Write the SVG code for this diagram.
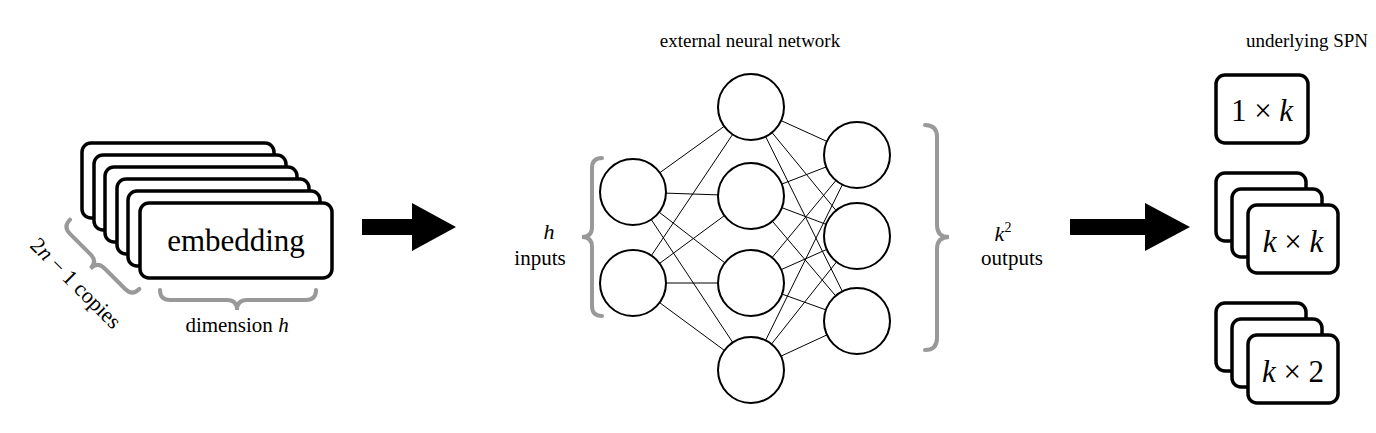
<svg xmlns="http://www.w3.org/2000/svg" width="1376" height="433" viewBox="0 0 1376 433">
<style>
.card{fill:#fff;stroke:#000;stroke-width:3.5}
.br{fill:none;stroke:#999;stroke-width:4;stroke-linecap:round}
.n{fill:#fff;stroke:#000;stroke-width:2}
.t{font-family:"Liberation Serif",serif;fill:#000}
.e line{stroke:#000;stroke-width:1}
</style>
<rect width="1376" height="433" fill="#fff"/>
<g id="embedding">
<rect class="card" x="82" y="143" width="192" height="75" rx="9"/>
<rect class="card" x="94" y="155" width="192" height="75" rx="9"/>
<rect class="card" x="105" y="167" width="192" height="75" rx="9"/>
<rect class="card" x="117" y="179" width="192" height="75" rx="9"/>
<rect class="card" x="128" y="191" width="192" height="75" rx="9"/>
<rect class="card" x="140" y="203" width="192" height="75" rx="9"/>
<text class="t" x="236" y="251" font-size="31" text-anchor="middle">embedding</text>
<path class="br" d="M160,290 Q160,300 170,300 L227,300 Q237,300 237,310 Q237,300 247,300 L306,300 Q316,300 316,290"/>
<text class="t" x="237" y="332" font-size="21" text-anchor="middle">dimension <tspan font-style="italic">h</tspan></text>
<g transform="translate(99,260) rotate(45)">
<path class="br" d="M-49,-8 Q-49,2 -39,2 L-10,2 Q0,2 0,12 Q0,2 10,2 L39,2 Q49,2 49,-8"/>
<text class="t" x="0" y="40" font-size="22" text-anchor="middle"><tspan>2</tspan><tspan font-style="italic">n</tspan> − 1 copies</text>
</g>
</g>
<g id="arrows">
<polygon points="362,219 412,219 412,203 456,227 412,251 412,235 362,235" fill="#000"/>
<polygon points="1070,219 1145,219 1145,203 1190,227 1145,251 1145,235 1070,235" fill="#000"/>
</g>
<g id="connectors" class="e">
<line x1="633" y1="192" x2="751" y2="107"/><line x1="633" y1="192" x2="751" y2="196"/><line x1="633" y1="192" x2="751" y2="283"/><line x1="633" y1="192" x2="751" y2="370"/>
<line x1="633" y1="283" x2="751" y2="107"/><line x1="633" y1="283" x2="751" y2="196"/><line x1="633" y1="283" x2="751" y2="283"/><line x1="633" y1="283" x2="751" y2="370"/>
<line x1="751" y1="107" x2="857" y2="155"/><line x1="751" y1="107" x2="857" y2="236"/><line x1="751" y1="107" x2="857" y2="321"/>
<line x1="751" y1="196" x2="857" y2="155"/><line x1="751" y1="196" x2="857" y2="236"/><line x1="751" y1="196" x2="857" y2="321"/>
<line x1="751" y1="283" x2="857" y2="155"/><line x1="751" y1="283" x2="857" y2="236"/><line x1="751" y1="283" x2="857" y2="321"/>
<line x1="751" y1="370" x2="857" y2="155"/><line x1="751" y1="370" x2="857" y2="236"/><line x1="751" y1="370" x2="857" y2="321"/>
</g>
<g id="network">
<circle class="n" cx="633" cy="192" r="33"/><circle class="n" cx="633" cy="283" r="33"/>
<circle class="n" cx="751" cy="107" r="33"/><circle class="n" cx="751" cy="196" r="33"/><circle class="n" cx="751" cy="283" r="33"/><circle class="n" cx="751" cy="370" r="33"/>
<circle class="n" cx="857" cy="155" r="33"/><circle class="n" cx="857" cy="236" r="33"/><circle class="n" cx="857" cy="321" r="33"/>
<text class="t" x="750" y="47" font-size="19" text-anchor="middle">external neural network</text>
<path class="br" d="M602,158 Q592,158 592,168 L592,227 Q592,237 582,237 Q592,237 592,247 L592,306 Q592,316 602,316"/>
<path class="br" d="M925,125 Q937,125 937,137 L937,225 Q937,237 949,237 Q937,237 937,249 L937,338 Q937,350 925,350"/>
<text class="t" x="549" y="239" font-size="22" text-anchor="middle" font-style="italic">h</text>
<text class="t" x="540" y="265" font-size="21" text-anchor="middle">inputs</text>
<text class="t" x="1003" y="241" font-size="22" text-anchor="middle"><tspan font-style="italic">k</tspan><tspan font-size="14" dy="-9">2</tspan></text>
<text class="t" x="1012" y="265" font-size="21" text-anchor="middle">outputs</text>
</g>
<g id="spn">
<text class="t" x="1368" y="47" font-size="19" text-anchor="end">underlying SPN</text>
<rect class="card" x="1216" y="75" width="92" height="68" rx="9"/>
<text class="t" x="1262" y="121" font-size="31" text-anchor="middle">1 × <tspan font-style="italic">k</tspan></text>
<rect class="card" x="1216" y="173" width="90" height="68" rx="9"/>
<rect class="card" x="1232" y="189" width="90" height="68" rx="9"/>
<rect class="card" x="1248" y="205" width="90" height="68" rx="9"/>
<text class="t" x="1293" y="252" font-size="31" text-anchor="middle"><tspan font-style="italic">k</tspan> × <tspan font-style="italic">k</tspan></text>
<rect class="card" x="1216" y="303" width="90" height="68" rx="9"/>
<rect class="card" x="1232" y="319" width="90" height="68" rx="9"/>
<rect class="card" x="1248" y="335" width="90" height="68" rx="9"/>
<text class="t" x="1293" y="382" font-size="31" text-anchor="middle"><tspan font-style="italic">k</tspan> × 2</text>
</g>
</svg>
